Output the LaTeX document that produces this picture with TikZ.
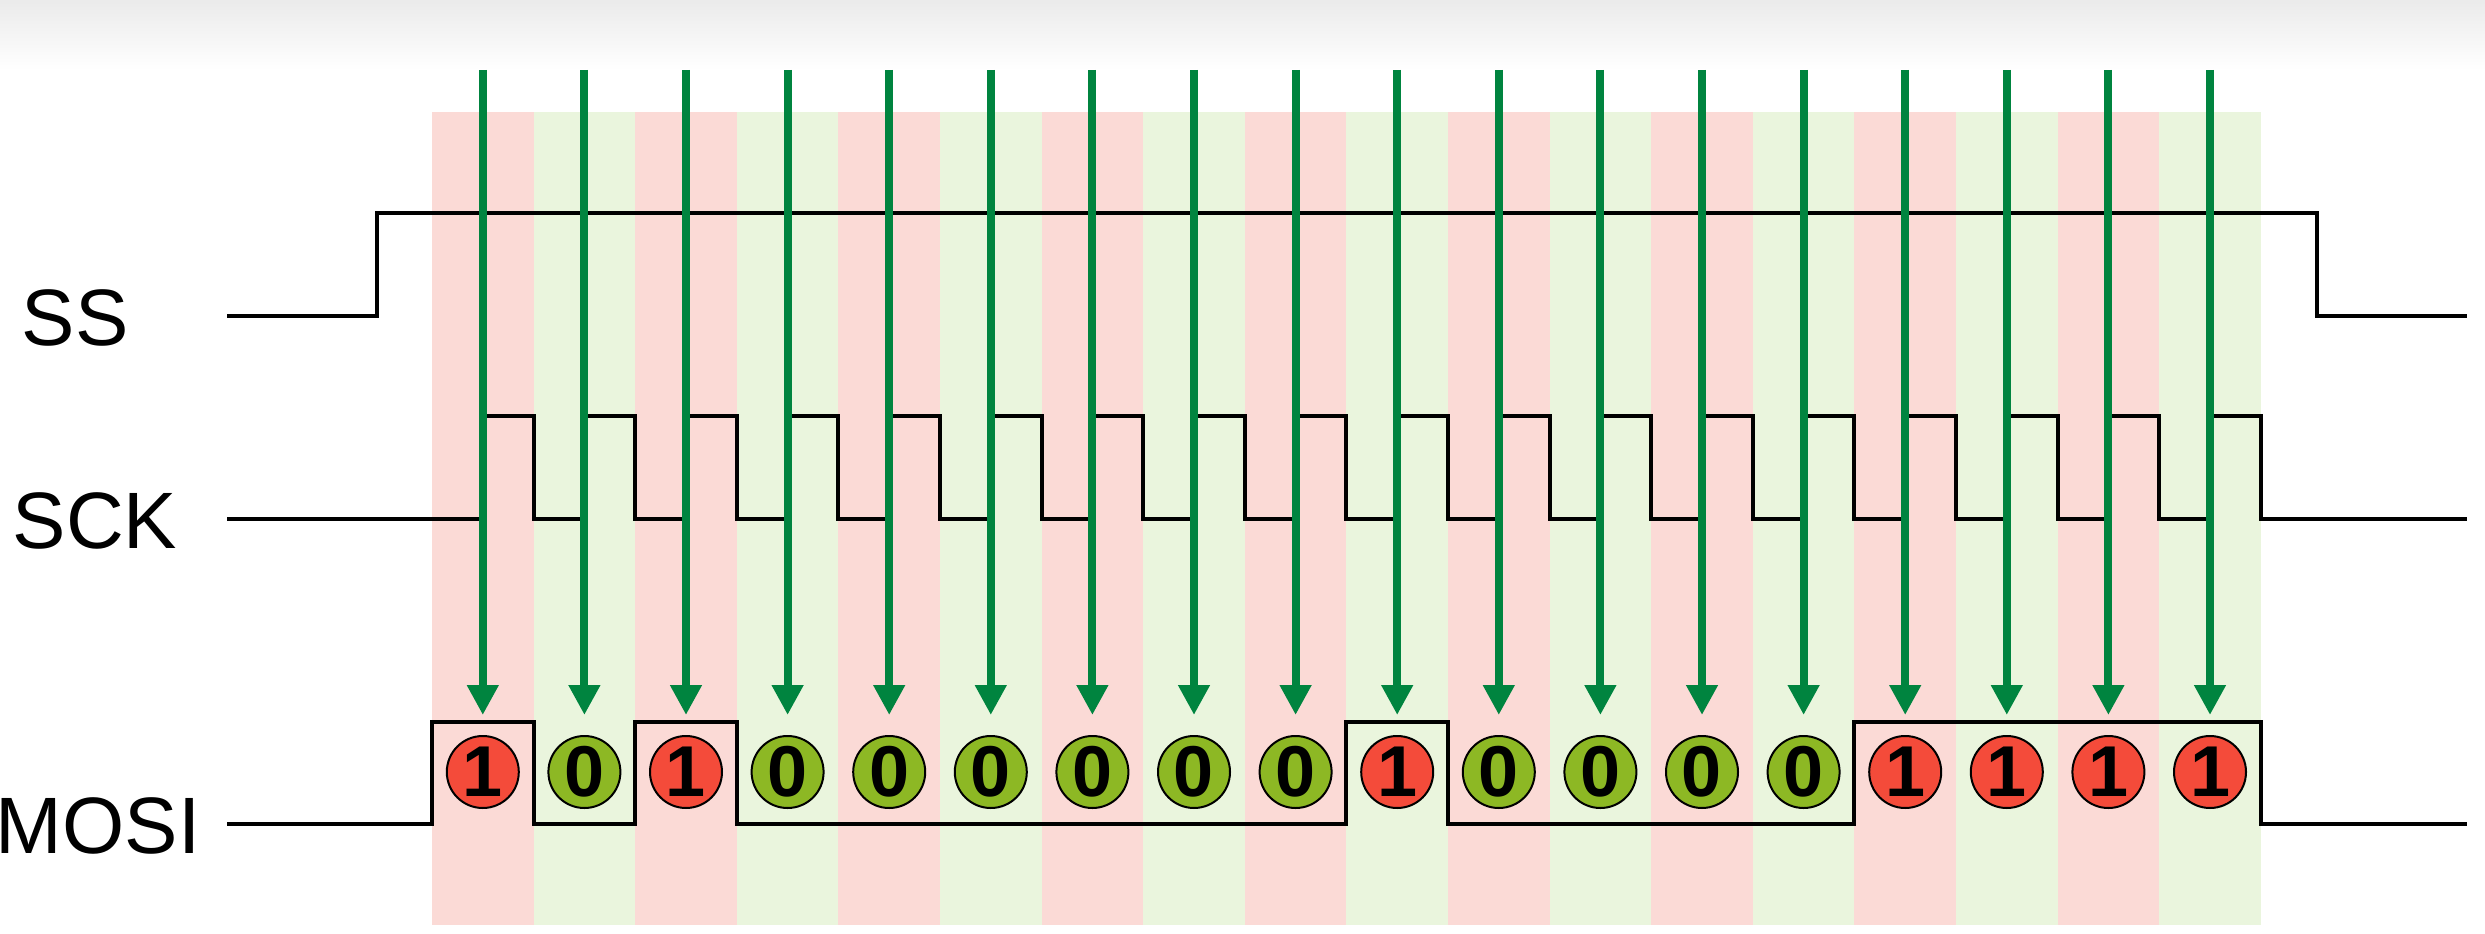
\documentclass[tikz,border=0pt]{standalone}
\usepackage{fontspec}
\setmainfont{Liberation Sans}
\usetikzlibrary{arrows.meta}
\definecolor{stripeR}{HTML}{FBDAD6}
\definecolor{stripeG}{HTML}{EAF5DD}
\definecolor{arrG}{HTML}{00843F}
\definecolor{bitR}{HTML}{F44B3A}
\definecolor{bitG}{HTML}{8DB824}
\tikzset{
  sig/.style={line width=4pt, line join=miter},
  clk/.style={line width=8pt, arrG, -{Triangle[width=30pt,length=30pt]}},
  bitnode/.style={circle, draw=black, line width=2pt, minimum size=72pt, inner sep=0pt, font=\fontsize{72}{72}\selectfont\bfseries},
  lbl/.style={font=\fontsize{80}{80}\selectfont}
}
\begin{document}
\begin{tikzpicture}[x=1pt,y=-1pt]
\useasboundingbox (0,0) rectangle (2485,934);
\shade[top color=black!8, bottom color=white] (0,0) rectangle (2485,70);
\def\xs{432}\def\sw{101.6}
\foreach \i in {0,...,17}{
  \pgfmathsetmacro{\xa}{\xs+\i*\sw}
  \pgfmathtruncatemacro{\myodd}{mod(\i,2)}
  \ifnum\myodd=0 \def\sc{stripeR}\else\def\sc{stripeG}\fi
  \fill[\sc] (\xa,112) rectangle ++(\sw,813);
}
% SS
\draw[sig] (227,316) -- (377,316) -- (377,213) -- (2317,213) -- (2317,316) -- (2467,316);
% SCK
\draw[sig] (227,519)
  \foreach \i in {0,...,17}{ -- ({\xs+(\i+0.5)*\sw},519) -- ({\xs+(\i+0.5)*\sw},416) -- ({\xs+(\i+1)*\sw},416) -- ({\xs+(\i+1)*\sw},519)} -- (2467,519);
% MOSI
\draw[sig] (227,824) -- (\xs,824) -- (\xs,722) -- ({\xs+\sw},722) -- ({\xs+\sw},824) -- ({\xs+2*\sw},824) -- ({\xs+2*\sw},722) -- ({\xs+3*\sw},722) -- ({\xs+3*\sw},824)
  -- ({\xs+9*\sw},824) -- ({\xs+9*\sw},722) -- ({\xs+10*\sw},722) -- ({\xs+10*\sw},824)
  -- ({\xs+14*\sw},824) -- ({\xs+14*\sw},722) -- ({\xs+18*\sw},722) -- ({\xs+18*\sw},824) -- (2467,824);
\node[lbl] (lss) at (75,318) {SS};
\node[lbl] (lsck) at (95,521) {SCK};
\node[lbl] (lmosi) at (98,826) {MOSI};
\foreach \b [count=\i from 0] in {1,0,1,0,0,0,0,0,0,1,0,0,0,0,1,1,1,1}{
  \pgfmathsetmacro{\xc}{\xs+(\i+0.5)*\sw}
  \ifnum\b=1 \def\bc{bitR}\else\def\bc{bitG}\fi
  \node[bitnode, fill=\bc] (b\i) at (\xc,772) {\b};
  \coordinate (t\i) at (\xc,70);
  \coordinate (h\i) at (\xc,715);
  \draw[clk] (t\i) -- (h\i);
}
\end{tikzpicture}
\end{document}
